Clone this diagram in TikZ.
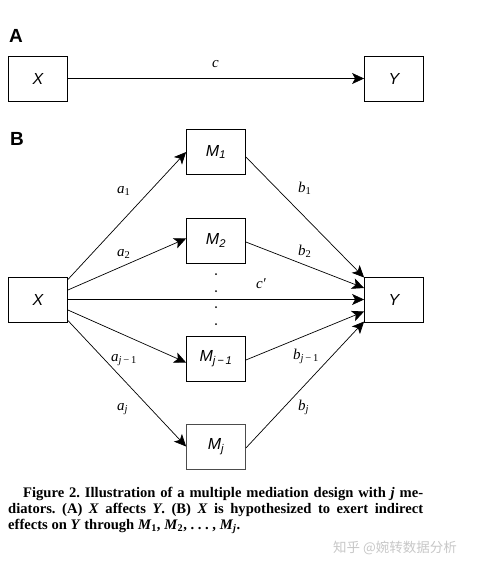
\documentclass[tikz,border=0pt]{standalone}
\usepackage{fontspec}
\setmainfont{Liberation Serif}
\setsansfont{Liberation Sans}
\newfontfamily\cjkfont{Noto Sans CJK SC}
\usetikzlibrary{arrows.meta}
\tikzset{
  box/.style={draw, line width=0.8pt, minimum width=59pt, minimum height=45pt, inner sep=0pt,
    font=\fontsize{16}{16}\selectfont\sffamily\itshape},
  arr/.style={line width=0.7pt, -{Stealth[length=12pt,width=11pt,inset=3pt]}},
  lab/.style={anchor=base west, inner sep=0pt, font=\fontsize{15}{15}\selectfont\itshape},
  panel/.style={anchor=base west, inner sep=0pt, font=\fontsize{19}{19}\selectfont\sffamily\bfseries},
  captxt/.style={anchor=base west, inner sep=0pt, font=\fontsize{14.6}{16}\selectfont\bfseries\frenchspacing},
  dotm/.style={fill=black}
}
\newcommand{\sbs}[1]{\textsubscript{#1}}
\begin{document}
\begin{tikzpicture}[x=1pt,y=-1pt]
\useasboundingbox (0,0) rectangle (478,568);
% Panel A
\node[panel] (pa) at (9,42) {A};
\node[box] (xa) at (38,78.5) {X};
\node[box] (ya) at (394,78.5) {Y};
\draw[arr] (xa.east) -- (ya.west);
\node[lab] (lc) at (212,67) {c};
% Panel B
\node[panel] (pb) at (10,145) {B};
\node[box] (xb) at (38,299.5) {X};
\node[box] (yb) at (394,299.5) {Y};
\node[box] (m1) at (216,152) {M\sbs{1}};
\node[box] (m2) at (216,240.5) {M\sbs{2}};
\node[box] (mk) at (216,358.5) {M\sbs{\textit{j}\,−\,1}};
\node[box, draw=black!70] (mj) at (216,446.5) {M\sbs{\textit{j}}};
% dots
\fill[dotm] (216,274) circle (1pt);
\fill[dotm] (216,291) circle (1pt);
\fill[dotm] (216,307) circle (1pt);
\fill[dotm] (216,324) circle (1pt);
% a paths
\draw[arr] ([yshift=20pt]xb.east) -- (m1.west);
\draw[arr] ([yshift=9.5pt]xb.east) -- ([yshift=2pt]m2.west);
\draw[arr] (xb.east) -- (yb.west);
\draw[arr] ([yshift=-10.5pt]xb.east) -- ([yshift=-4pt]mk.west);
\draw[arr] ([yshift=-21pt]xb.east) -- (mj.west);
% b paths
\draw[arr] ([yshift=-5pt]m1.east) -- ([yshift=22pt]yb.west);
\draw[arr] ([yshift=-1.5pt]m2.east) -- ([yshift=11.5pt]yb.west);
\draw[arr] ([yshift=-1.5pt]mk.east) -- ([yshift=-12pt]yb.west);
\draw[arr] ([yshift=-1.5pt]mj.east) -- ([yshift=-22pt]yb.west);
% labels
\node[lab] (la1) at (117,193) {a\sbs{\upshape 1}};
\node[lab] (la2) at (117,256.5) {a\sbs{\upshape 2}};
\node[lab] (lcp) at (256,288) {c\kern0.5pt\upshape′};
\node[lab] (lb1) at (298,192) {b\sbs{\upshape 1}};
\node[lab] (lb2) at (298,255) {b\sbs{\upshape 2}};
\node[lab] (lak) at (111,361) {a\sbs{j\,\upshape−\,1}};
\node[lab] (laj) at (117,410) {a\sbs{j}};
\node[lab] (lbk) at (293,359) {b\sbs{j\,\upshape−\,1}};
\node[lab] (lbj) at (298,410) {b\sbs{j}};
% caption
\node[captxt] (c1) at (23,497) {\makebox[400pt][s]{Figure 2. Illustration of a multiple mediation design with \textit{j} me-}};
\node[captxt] (c2) at (8,513) {\makebox[415pt][s]{diators. (A) \textit{X} affects \textit{Y}. (B) \textit{X} is hypothesized to exert indirect}};
\node[captxt] (c3) at (8,529) {effects on \textit{Y} through \textit{M}\sbs{1}, \textit{M}\sbs{2}, . . . , \textit{M}\sbs{\textit{j}}.};
\node[anchor=west, inner sep=0pt, text=black!22, font=\fontsize{13.5}{13.5}\selectfont\cjkfont] (wm) at (333,548) {知乎 @婉转数据分析};
\end{tikzpicture}
\end{document}
